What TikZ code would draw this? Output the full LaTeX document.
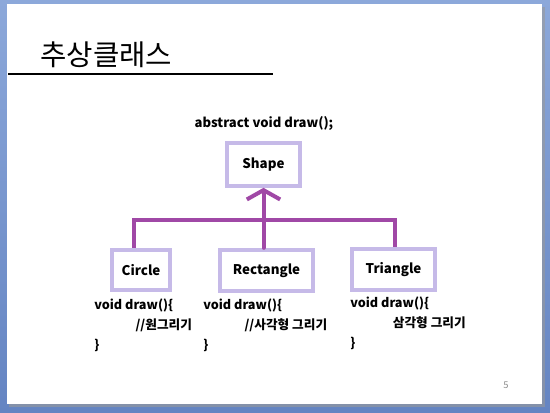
\documentclass[tikz,border=0pt]{standalone}
\usepackage{fontspec}
\setmainfont{Noto Sans CJK KR}
\usepackage{tikz}
\usepackage{xcolor}
\usetikzlibrary{calc}
\usetikzlibrary{arrows.meta}
\usetikzlibrary{positioning}

\definecolor{frameblue}{RGB}{100,132,194}
\definecolor{frametop}{RGB}{140,168,218}
\definecolor{boxlilac}{RGB}{198,186,232}
\definecolor{linkpurple}{RGB}{160,72,166}

\begin{document}
\begin{tikzpicture}[x=0.75pt, y=-0.75pt,
		classbox/.style={draw=boxlilac, line width=3pt, fill=white, font=\bfseries\fontsize{10}{12}\selectfont},
		codetext/.style={anchor=north west, inner sep=0pt, align=left, font=\bfseries\fontsize{9.5}{15}\selectfont},
		link/.style={draw=linkpurple, line width=3pt}]
		\useasboundingbox (0,0) rectangle (550,413);
		% slide frame
		\shade[top color=frametop, bottom color=frameblue] (0,0) rectangle (550,413);
		\fill[black!40, opacity=0.6] (9,7) rectangle (545,407);
		\fill[white] (7,4) rectangle (542,404);
		
		\node[anchor=base west, inner sep=0pt, font=\fontsize{21.5}{24}\selectfont] at (40,66) (title) {추상클래스};
		\draw[line width=1.5pt] (8,74) -- (273,74);
		
		\node[anchor=base, inner sep=0pt, font=\bfseries\fontsize{9.8}{11}\selectfont] at (264,128) (abstract) {abstract void draw();};
		
		\node[classbox, minimum width=55pt, minimum height=32pt] at (263.5,164.5) (shape) {Shape};
		\node[classbox, minimum width=43.5pt, minimum height=30pt] at (141,270) (circle) {Circle};
		\node[classbox, minimum width=70pt, minimum height=31pt] at (266.5,270.5) (rect) {Rectangle};
		\node[classbox, minimum width=62pt, minimum height=31pt] at (393.5,269.5) (triangle) {Triangle};
		
		\coordinate (junction) at (263.5,220);
		
		\draw[link] ([xshift=-5pt]circle.north) |- ([xshift=1pt]triangle.north |- junction) -- ([xshift=1pt]triangle.north);
		\draw[link, line cap=round, -{Straight Barb[length=7pt, width=25pt]}] (rect.north -| shape.south) -- (shape.south);
		
		\node[codetext] at (94,299) (circlecode) {void draw()\{\\\hspace*{31pt}//원그리기\\\}};
		\node[codetext] at (203,299) (rectcode) {void draw()\{\\\hspace*{31pt}//사각형 그리기\\\}};
		\node[codetext] at (350,297) (trianglecode) {void draw()\{\\\hspace*{32pt}삼각형 그리기\\\}};
		
		\node[text=black!45, inner sep=0pt, font=\fontsize{7}{8}\selectfont] at (506,385) (page) {5};
	\end{tikzpicture}
\end{document}
